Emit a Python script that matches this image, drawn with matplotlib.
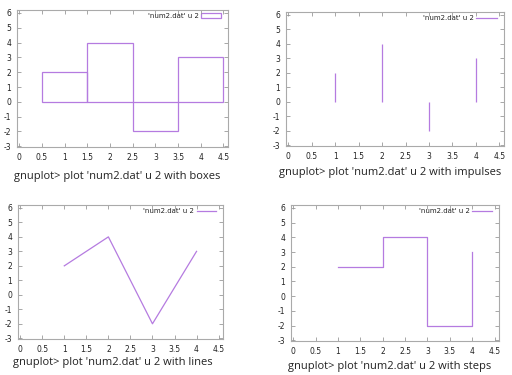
import matplotlib.pyplot as plt

plt.rcParams['axes.unicode_minus'] = False

# data from num2.dat, column 2
xs = [1, 2, 3, 4]
ys = [2, 4, -2, 3]
xticks = [0, 0.5, 1, 1.5, 2, 2.5, 3, 3.5, 4, 4.5]
yticks = [-3, -2, -1, 0, 1, 2, 3, 4, 5, 6]
label = "'num2.dat' u 2"
captions = ["gnuplot> plot 'num2.dat' u 2 with boxes",
            "gnuplot> plot 'num2.dat' u 2 with impulses",
            "gnuplot> plot 'num2.dat' u 2 with lines",
            "gnuplot> plot 'num2.dat' u 2 with steps"]

W, H = 512, 375
purple = '#b57be0'
fig = plt.figure(figsize=(W / 100, H / 100), dpi=100)


def make_axes(left, right, top, bottom):
    ax = fig.add_axes([left / W, 1 - bottom / H, (right - left) / W, (bottom - top) / H])
    ax.set_xlim(-0.05, 4.6)
    ax.set_ylim(-3.05, 6.2)
    ax.set_xticks(xticks)
    ax.set_xticklabels([('%g' % t) for t in xticks])
    ax.set_yticks(yticks)
    ax.set_yticklabels([str(t) for t in yticks])
    ax.tick_params(direction='in', length=3, width=0.6, colors='#999999',
                   labelcolor='#222222', labelsize=5.5, pad=4,
                   top=True, right=True)
    for s in ax.spines.values():
        s.set_color('#aaaaaa')
        s.set_linewidth(0.8)
    return ax


def caption(cx, cy, text):
    fig.text(cx / W, 1 - cy / H, text, ha='center', va='center',
             fontsize=8, family='Open Sans', color='#222222')


def legend(ax, kind):
    ax.text(0.86, 0.958, label, transform=ax.transAxes, ha='right', va='center',
            fontsize=5, color='#222222')
    if kind == 'box':
        ax.add_patch(plt.Rectangle((0.872, 0.94), 0.095, 0.036, transform=ax.transAxes,
                                   fill=False, edgecolor=purple, lw=0.9))
    else:
        ax.plot([0.872, 0.967], [0.958, 0.958], transform=ax.transAxes,
                color=purple, lw=0.9)


# boxes
ax1 = make_axes(17, 228, 10, 147)
ax1.bar(xs, ys, width=1.0, fill=False, edgecolor=purple, linewidth=0.9)
legend(ax1, 'box')
caption(117, 176, captions[0])

# impulses
ax2 = make_axes(286, 504, 12, 146)
ax2.vlines(xs, 0, ys, color=purple, linewidth=0.9)
legend(ax2, 'line')
caption(390, 172, captions[1])

# lines
ax3 = make_axes(18, 223, 205, 339)
ax3.plot(xs, ys, color=purple, linewidth=0.9)
legend(ax3, 'line')
caption(113, 363, captions[2])

# steps
ax4 = make_axes(291, 499, 205, 341)
ax4.plot(xs, ys, color=purple, linewidth=0.9, drawstyle='steps-post')
legend(ax4, 'line')
caption(390, 366, captions[3])

fig.savefig('out.png', dpi=100)
